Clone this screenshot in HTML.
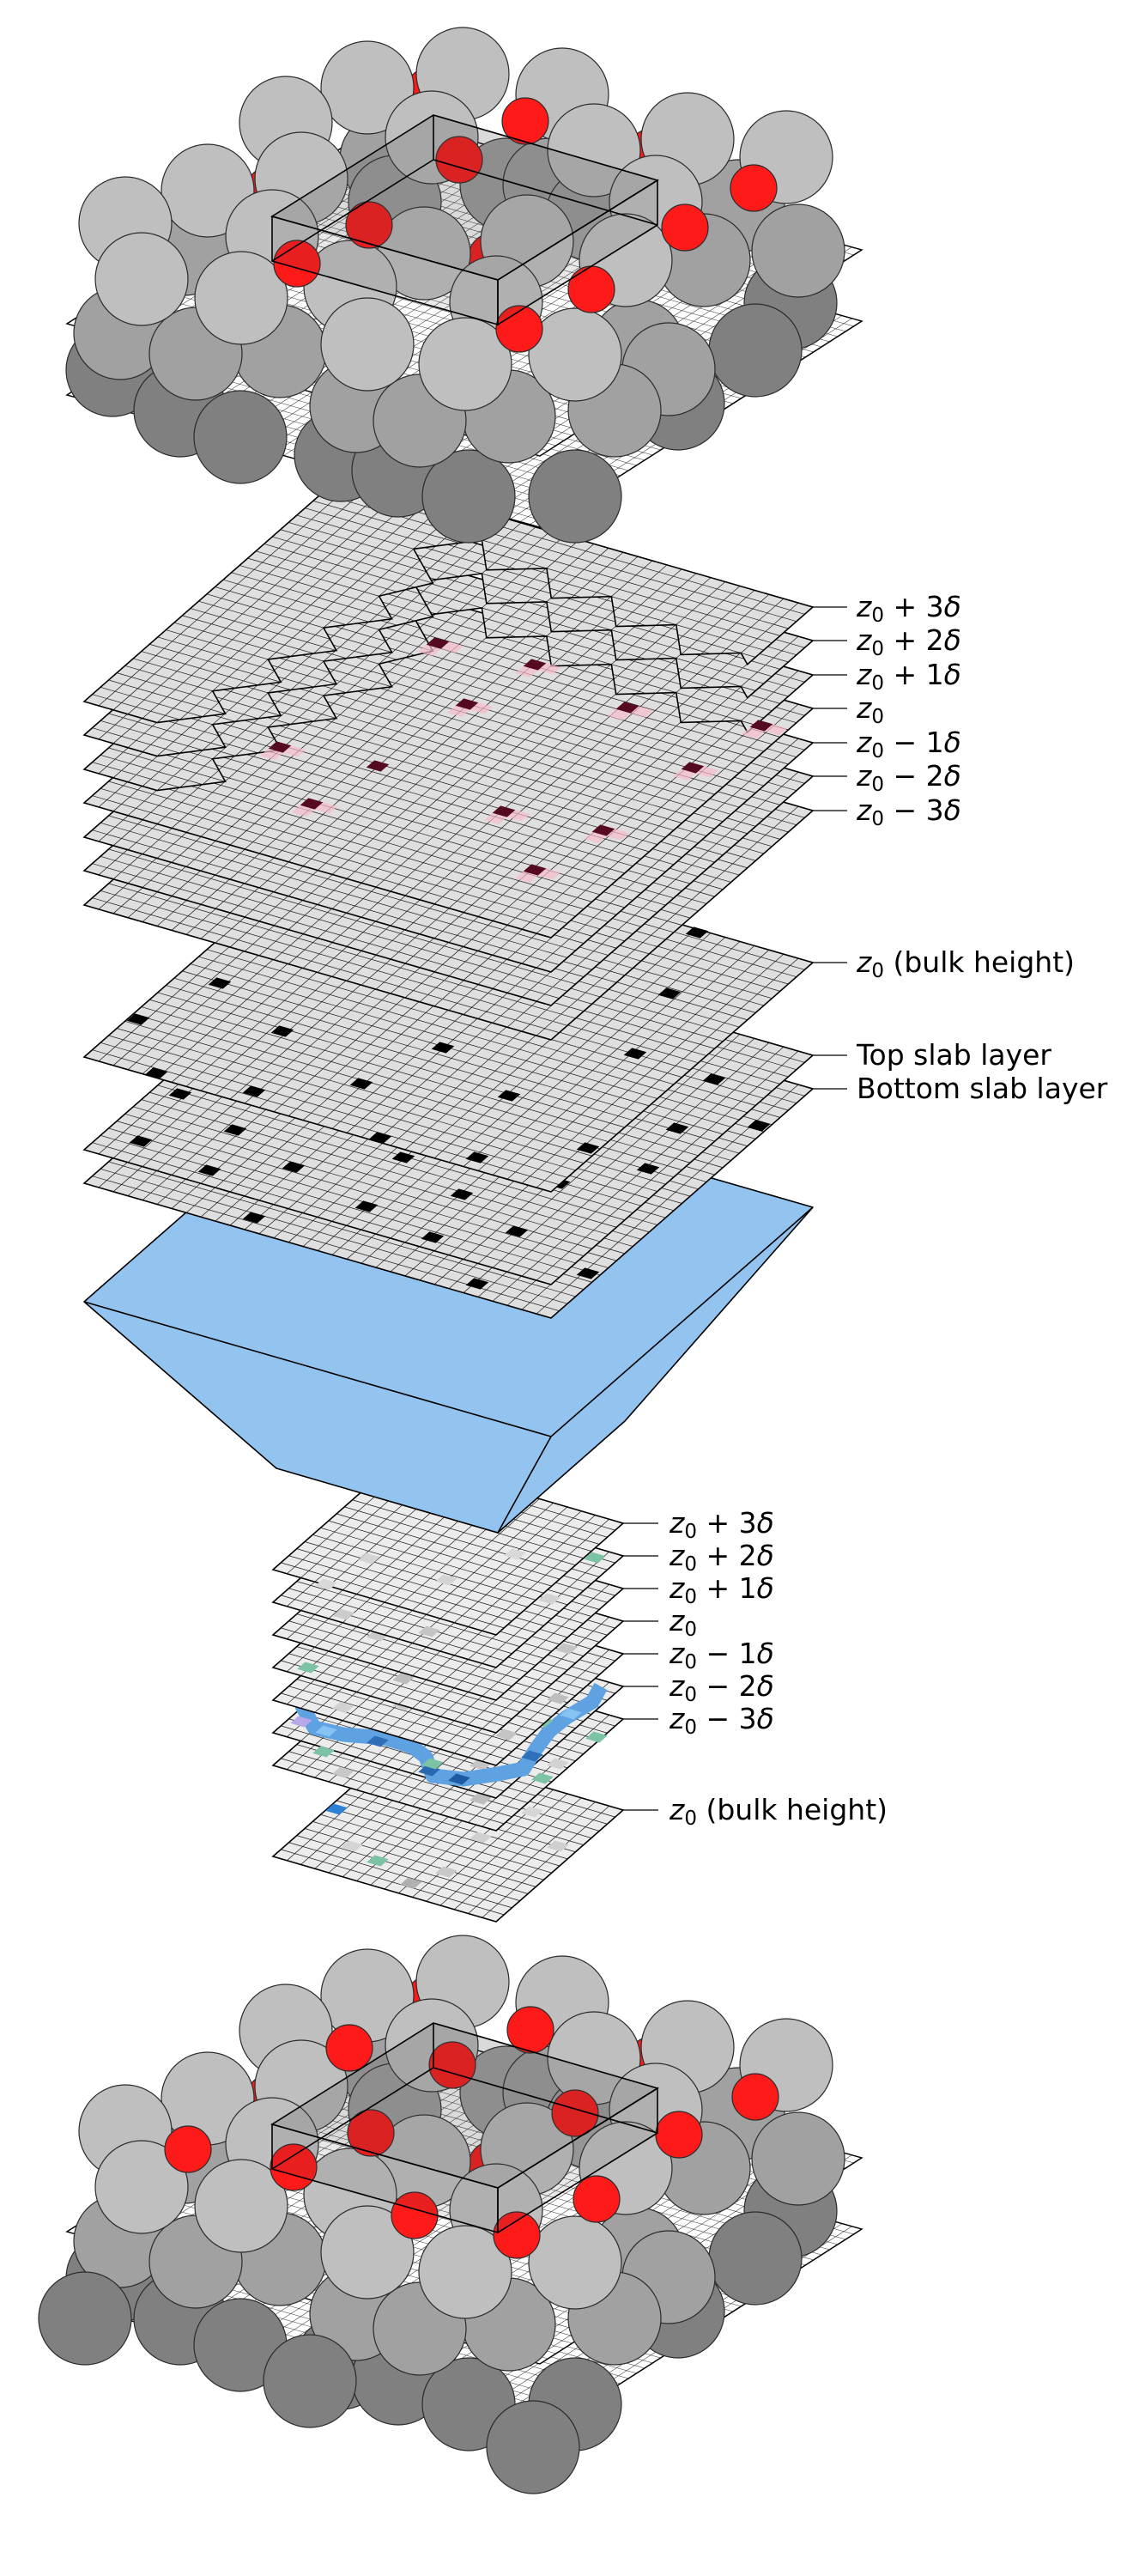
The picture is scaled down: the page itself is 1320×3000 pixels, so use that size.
<!DOCTYPE html>
<html>
<head>
<meta charset="utf-8">
<style>
html,body{margin:0;padding:0;background:#fff;}
svg{display:block;}
text{font-family:"DejaVu Sans","Liberation Sans",sans-serif;font-size:33px;fill:#000;white-space:pre;}
.i{font-style:italic;}
.s{font-size:23px;}
</style>
</head>
<body>
<svg xmlns="http://www.w3.org/2000/svg" xmlns:xlink="http://www.w3.org/1999/xlink" width="1320" height="3000" viewBox="0 0 1320 3000">
<defs>
  <g id="g32">
    <rect width="32" height="32" fill="#dfdfdf"/>
    <path fill="none" stroke="#1a1a1a" stroke-width="0.7" vector-effect="non-scaling-stroke" d="M1 0V32M2 0V32M3 0V32M4 0V32M5 0V32M6 0V32M7 0V32M8 0V32M9 0V32M10 0V32M11 0V32M12 0V32M13 0V32M14 0V32M15 0V32M16 0V32M17 0V32M18 0V32M19 0V32M20 0V32M21 0V32M22 0V32M23 0V32M24 0V32M25 0V32M26 0V32M27 0V32M28 0V32M29 0V32M30 0V32M31 0V32M0 1H32M0 2H32M0 3H32M0 4H32M0 5H32M0 6H32M0 7H32M0 8H32M0 9H32M0 10H32M0 11H32M0 12H32M0 13H32M0 14H32M0 15H32M0 16H32M0 17H32M0 18H32M0 19H32M0 20H32M0 21H32M0 22H32M0 23H32M0 24H32M0 25H32M0 26H32M0 27H32M0 28H32M0 29H32M0 30H32M0 31H32"/>
  </g>
  <g id="g16">
    <rect width="16" height="16" fill="#ececec"/>
    <path fill="none" stroke="#1a1a1a" stroke-width="0.7" vector-effect="non-scaling-stroke" d="M1 0V16M2 0V16M3 0V16M4 0V16M5 0V16M6 0V16M7 0V16M8 0V16M9 0V16M10 0V16M11 0V16M12 0V16M13 0V16M14 0V16M15 0V16M0 1H16M0 2H16M0 3H16M0 4H16M0 5H16M0 6H16M0 7H16M0 8H16M0 9H16M0 10H16M0 11H16M0 12H16M0 13H16M0 14H16M0 15H16"/>
    <rect width="16" height="16" fill="none" stroke="#000" stroke-width="1.6" vector-effect="non-scaling-stroke"/>
  </g>
  <g id="ag">
    <rect width="48" height="40" fill="#fff"/>
    <path fill="none" stroke="#333" stroke-width="0.06" d="M1 0V40M2 0V40M3 0V40M4 0V40M5 0V40M6 0V40M7 0V40M8 0V40M9 0V40M10 0V40M11 0V40M12 0V40M13 0V40M14 0V40M15 0V40M16 0V40M17 0V40M18 0V40M19 0V40M20 0V40M21 0V40M22 0V40M23 0V40M24 0V40M25 0V40M26 0V40M27 0V40M28 0V40M29 0V40M30 0V40M31 0V40M32 0V40M33 0V40M34 0V40M35 0V40M36 0V40M37 0V40M38 0V40M39 0V40M40 0V40M41 0V40M42 0V40M43 0V40M44 0V40M45 0V40M46 0V40M47 0V40M0 1H48M0 2H48M0 3H48M0 4H48M0 5H48M0 6H48M0 7H48M0 8H48M0 9H48M0 10H48M0 11H48M0 12H48M0 13H48M0 14H48M0 15H48M0 16H48M0 17H48M0 18H48M0 19H48M0 20H48M0 21H48M0 22H48M0 23H48M0 24H48M0 25H48M0 26H48M0 27H48M0 28H48M0 29H48M0 30H48M0 31H48M0 32H48M0 33H48M0 34H48M0 35H48M0 36H48M0 37H48M0 38H48M0 39H48"/>
    <rect width="48" height="40" fill="none" stroke="#000" stroke-width="0.17"/>
  </g>
  <clipPath id="cut" clipPathUnits="userSpaceOnUse">
    <polygon points="0,0 5,0 8,3 6,5 9,8 7,10 10,13 8,15 11,18 9,20 11,23 8,26 11,29 13,26 16,28 18,25 21,27 23,24 26,26 28,23 31,25 32,24 32,32 0,32"/>
  </clipPath>
  <polygon id="mc" points="-13.27,1.72 3.73,6.63 13.27,-1.72 -3.73,-6.63"/>
  <polygon id="sc" points="-12.75,1.69 3.5,6.44 12.75,-1.69 -3.5,-6.44"/>
  <g id="rc">
    <use xlink:href="#mc" href="#mc" x="17" y="4.9" fill="#f6bccb" fill-opacity="0.7"/>
    <use xlink:href="#mc" href="#mc" x="-9.53" y="8.34" fill="#f6bccb" fill-opacity="0.7"/>
    <use xlink:href="#mc" href="#mc" x="0" y="0" fill="#550a20"/>
  </g>

  <g id="cl" stroke="#2a2a2a" stroke-width="1.2">
    <g stroke="none">
      <g transform="matrix(11.479 3.208 9.375 -6.0 78 460)"><use xlink:href="#ag" href="#ag"/></g>
      <g transform="matrix(11.479 3.208 9.375 -6.0 78 377)"><use xlink:href="#ag" href="#ag"/></g>
    </g>
    <g fill="#808080">
      <circle cx="921" cy="353" r="54"/>
      <circle cx="880" cy="408" r="54"/>
      <circle cx="131" cy="431" r="54"/>
      <circle cx="790" cy="470" r="54"/>
      <circle cx="210" cy="478" r="54"/>
      <circle cx="280" cy="509" r="54"/>
      <circle cx="397" cy="530" r="54"/>
      <circle cx="464" cy="548" r="54"/>
      <circle cx="546" cy="578" r="54"/>
      <circle cx="670" cy="578" r="54"/>
    </g>
    <g fill="#a1a1a1">
      <circle cx="450" cy="185" r="54"/>
      <circle cx="590" cy="215" r="54"/>
      <circle cx="640" cy="215" r="54"/>
      <circle cx="860" cy="240" r="54"/>
      <circle cx="460" cy="235" r="54"/>
      <circle cx="690" cy="250" r="54"/>
      <circle cx="215" cy="290" r="54"/>
      <circle cx="930" cy="292" r="54"/>
      <circle cx="820" cy="303" r="54"/>
      <circle cx="140" cy="388" r="54"/>
      <circle cx="743" cy="403" r="54"/>
      <circle cx="326" cy="409" r="54"/>
      <circle cx="228" cy="412" r="54"/>
      <circle cx="779" cy="430" r="54"/>
      <circle cx="415" cy="473" r="54"/>
      <circle cx="716" cy="478" r="54"/>
      <circle cx="593" cy="485" r="54"/>
      <circle cx="489" cy="490" r="54"/>
    </g>
    <g fill="#ff1a1a">
      <circle cx="500" cy="106" r="27"/>
      <circle cx="759" cy="177" r="27"/>
      <circle cx="573" cy="299" r="27"/>
      <circle cx="314" cy="221" r="27"/>
    </g>
    <g fill="#bfbfbf">
      <circle cx="539" cy="86" r="54"/>
      <circle cx="428" cy="102" r="54"/>
      <circle cx="655" cy="110" r="54"/>
      <circle cx="333" cy="143" r="54"/>
      <circle cx="503" cy="160" r="54"/>
      <circle cx="801" cy="162" r="54"/>
      <circle cx="692" cy="175" r="54"/>
      <circle cx="916" cy="183" r="54"/>
      <circle cx="351" cy="208" r="54"/>
      <circle cx="242" cy="222" r="54"/>
      <circle cx="764" cy="235" r="54"/>
      <circle cx="146" cy="260" r="54"/>
      <circle cx="317" cy="275" r="54"/>
      <circle cx="614" cy="281" r="54"/>
      <circle cx="494" cy="295" r="54"/>
      <circle cx="729" cy="303" r="54"/>
      <circle cx="165" cy="325" r="54"/>
      <circle cx="408" cy="334" r="54"/>
      <circle cx="281" cy="347" r="54"/>
      <circle cx="578" cy="352" r="54"/>
      <circle cx="428" cy="401" r="54"/>
      <circle cx="670" cy="413" r="54"/>
      <circle cx="542" cy="424" r="54"/>
    </g>
  </g>

  <g id="box" stroke="#000" stroke-width="1.6">
    <polygon points="505,134 766,210 580,326 317,252" fill="#464646" fill-opacity="0.2"/>
    <polygon points="317,252 580,326 580,378 317,304" fill="#464646" fill-opacity="0.12"/>
    <polygon points="580,326 766,210 766,262 580,378" fill="#464646" fill-opacity="0.12"/>
    <path fill="none" d="M505,134V186M505,186L317,304M505,186L766,262"/>
  </g>
</defs>

<rect width="1320" height="3000" fill="#fff"/>

<!-- ============ SMALL OUTPUT LAYERS ============ -->
<g transform="matrix(16.25 4.75 9.25 -8.125 318 2162)"><use xlink:href="#g16" href="#g16"/></g>
<use xlink:href="#sc" href="#sc" x="392" y="2107" fill="#2f7fd6"/>
<use xlink:href="#sc" href="#sc" x="440" y="2167" fill="#7cc3a6"/>
<use xlink:href="#sc" href="#sc" x="479" y="2193" fill="#b0b0b0"/>
<use xlink:href="#sc" href="#sc" x="560" y="2140" fill="#d0d0d0"/>
<use xlink:href="#sc" href="#sc" x="620" y="2110" fill="#d6d6d6"/>
<use xlink:href="#sc" href="#sc" x="520" y="2180" fill="#c8c8c8"/>
<use xlink:href="#sc" href="#sc" x="650" y="2150" fill="#cfcfcf"/>
<use xlink:href="#sc" href="#sc" x="410" y="2150" fill="#d4d4d4"/>
<g transform="matrix(16.25 4.75 9.25 -8.125 318 2056)"><use xlink:href="#g16" href="#g16"/></g>
<use xlink:href="#sc" href="#sc" x="400" y="2064" fill="#c8c8c8"/>
<use xlink:href="#sc" href="#sc" x="560" y="2095" fill="#bdbdbd"/>
<use xlink:href="#sc" href="#sc" x="650" y="2054" fill="#d2d2d2"/>
<g transform="matrix(16.25 4.75 9.25 -8.125 318 2018)"><use xlink:href="#g16" href="#g16"/></g>
<use xlink:href="#sc" href="#sc" x="560" y="2055" fill="#c4c4c4"/>
<polyline points="351,1985 366,2012 400,2020 448,2024 480,2034 496,2046 504,2068 540,2072 580,2066 610,2060 625,2036 640,2016 660,2000 690,1982 700,1964" fill="none" stroke="#5fa2e2" stroke-width="17" stroke-linejoin="round"/>
<use xlink:href="#sc" href="#sc" x="440" y="2028" fill="#2f6fb8"/>
<use xlink:href="#sc" href="#sc" x="500" y="2062" fill="#2a68b2"/>
<use xlink:href="#sc" href="#sc" x="535" y="2072" fill="#1d5aa3"/>
<use xlink:href="#sc" href="#sc" x="620" y="2045" fill="#2f70bb"/>
<use xlink:href="#sc" href="#sc" x="380" y="2016" fill="#86c2f2"/>
<use xlink:href="#sc" href="#sc" x="665" y="1996" fill="#86c2f2"/>
<use xlink:href="#sc" href="#sc" x="351" y="2005" fill="#b8a8ea"/>
<use xlink:href="#sc" href="#sc" x="377" y="2040" fill="#7cc3a6"/>
<use xlink:href="#sc" href="#sc" x="504" y="2054" fill="#7cc3a6"/>
<use xlink:href="#sc" href="#sc" x="632" y="2071" fill="#7cc3a6"/>
<use xlink:href="#sc" href="#sc" x="632" y="2005" fill="#7cc3a6"/>
<use xlink:href="#sc" href="#sc" x="695" y="2023" fill="#7cc3a6"/>
<g transform="matrix(16.25 4.75 9.25 -8.125 318 1980)"><use xlink:href="#g16" href="#g16"/></g>
<use xlink:href="#sc" href="#sc" x="470" y="1985" fill="#c8c8c8"/>
<use xlink:href="#sc" href="#sc" x="590" y="2020" fill="#c4c4c4"/>
<use xlink:href="#sc" href="#sc" x="650" y="1978" fill="#bdbdbd"/>
<use xlink:href="#sc" href="#sc" x="400" y="1988" fill="#d2d2d2"/>
<g transform="matrix(16.25 4.75 9.25 -8.125 318 1942)"><use xlink:href="#g16" href="#g16"/></g>
<use xlink:href="#sc" href="#sc" x="359" y="1942" fill="#7cc3a6"/>
<use xlink:href="#sc" href="#sc" x="540" y="1960" fill="#c8c8c8"/>
<use xlink:href="#sc" href="#sc" x="660" y="1920" fill="#c4c4c4"/>
<use xlink:href="#sc" href="#sc" x="470" y="1955" fill="#bdbdbd"/>
<g transform="matrix(16.25 4.75 9.25 -8.125 318 1904)"><use xlink:href="#g16" href="#g16"/></g>
<use xlink:href="#sc" href="#sc" x="440" y="1905" fill="#c8c8c8"/>
<use xlink:href="#sc" href="#sc" x="505" y="1905" fill="#c0c0c0"/>
<use xlink:href="#sc" href="#sc" x="620" y="1880" fill="#c8c8c8"/>
<use xlink:href="#sc" href="#sc" x="560" y="1920" fill="#bdbdbd"/>
<g transform="matrix(16.25 4.75 9.25 -8.125 318 1866)"><use xlink:href="#g16" href="#g16"/></g>
<use xlink:href="#sc" href="#sc" x="693" y="1814" fill="#7cc3a6"/>
<use xlink:href="#sc" href="#sc" x="400" y="1880" fill="#cccccc"/>
<use xlink:href="#sc" href="#sc" x="500" y="1900" fill="#c4c4c4"/>
<use xlink:href="#sc" href="#sc" x="640" y="1862" fill="#d2d2d2"/>
<g transform="matrix(16.25 4.75 9.25 -8.125 318 1828)"><use xlink:href="#g16" href="#g16"/></g>
<use xlink:href="#sc" href="#sc" x="520" y="1840" fill="#d4d4d4"/>
<use xlink:href="#sc" href="#sc" x="430" y="1815" fill="#d4d4d4"/>
<use xlink:href="#sc" href="#sc" x="600" y="1810" fill="#d8d8d8"/>
<use xlink:href="#sc" href="#sc" x="380" y="1845" fill="#d8d8d8"/>

<!-- ============ FUNNEL ============ -->
<polygon points="98,1516 403,1249 947,1406 728,1655 580,1785 322,1710" fill="#93c4f0" stroke="#000" stroke-width="1.6" stroke-linejoin="round"/>
<path d="M98,1516L642,1673L947,1406M642,1673L580,1785" fill="none" stroke="#000" stroke-width="1.6"/>

<!-- ============ SLAB LAYERS ============ -->
<g transform="matrix(17 4.906 9.531 -8.344 98 1378)"><use xlink:href="#g32" href="#g32"/><rect width="32" height="32" fill="none" stroke="#000" stroke-width="1.6" vector-effect="non-scaling-stroke"/></g>
<g fill="#000">
<use xlink:href="#mc" href="#mc" x="884" y="1311"/>
<use xlink:href="#mc" href="#mc" x="296" y="1418"/>
<use xlink:href="#mc" href="#mc" x="685" y="1483"/>
<use xlink:href="#mc" href="#mc" x="556" y="1495"/>
</g>
<g transform="matrix(17 4.906 9.531 -8.344 98 1339)"><use xlink:href="#g32" href="#g32"/><rect width="32" height="32" fill="none" stroke="#000" stroke-width="1.6" vector-effect="non-scaling-stroke"/></g>
<g fill="#000">
<use xlink:href="#mc" href="#mc" x="832" y="1257"/>
<use xlink:href="#mc" href="#mc" x="210" y="1274"/>
<use xlink:href="#mc" href="#mc" x="274" y="1316"/>
<use xlink:href="#mc" href="#mc" x="789" y="1314"/>
<use xlink:href="#mc" href="#mc" x="164" y="1329"/>
<use xlink:href="#mc" href="#mc" x="470" y="1348"/>
<use xlink:href="#mc" href="#mc" x="342" y="1359"/>
<use xlink:href="#mc" href="#mc" x="755" y="1361"/>
<use xlink:href="#mc" href="#mc" x="244" y="1363"/>
<use xlink:href="#mc" href="#mc" x="538" y="1391"/>
<use xlink:href="#mc" href="#mc" x="427" y="1405"/>
<use xlink:href="#mc" href="#mc" x="602" y="1434"/>
<use xlink:href="#mc" href="#mc" x="504" y="1441"/>
<use xlink:href="#mc" href="#mc" x="651" y="1378"/>
</g>
<g transform="matrix(17 4.906 9.531 -8.344 98 1231)"><use xlink:href="#g32" href="#g32"/><rect width="32" height="32" fill="none" stroke="#000" stroke-width="1.6" vector-effect="non-scaling-stroke"/></g>
<g fill="#000">
<use xlink:href="#mc" href="#mc" x="812" y="1086"/>
<use xlink:href="#mc" href="#mc" x="780" y="1157"/>
<use xlink:href="#mc" href="#mc" x="256" y="1145"/>
<use xlink:href="#mc" href="#mc" x="161" y="1187"/>
<use xlink:href="#mc" href="#mc" x="329" y="1201"/>
<use xlink:href="#mc" href="#mc" x="516" y="1220"/>
<use xlink:href="#mc" href="#mc" x="740" y="1227"/>
<use xlink:href="#mc" href="#mc" x="182" y="1250"/>
<use xlink:href="#mc" href="#mc" x="421" y="1262"/>
<use xlink:href="#mc" href="#mc" x="593" y="1276"/>
<use xlink:href="#mc" href="#mc" x="296" y="1271"/>
<use xlink:href="#mc" href="#mc" x="443" y="1325"/>
<use xlink:href="#mc" href="#mc" x="556" y="1348"/>
<use xlink:href="#mc" href="#mc" x="685" y="1337"/>
</g>

<!-- ============ MAIN STACK ============ -->
<g transform="matrix(17 4.906 9.531 -8.344 98 1054)"><use xlink:href="#g32" href="#g32"/><rect width="32" height="32" fill="none" stroke="#000" stroke-width="1.6" vector-effect="non-scaling-stroke"/></g>
<g transform="matrix(17 4.906 9.531 -8.344 98 1014)"><use xlink:href="#g32" href="#g32"/><rect width="32" height="32" fill="none" stroke="#000" stroke-width="1.6" vector-effect="non-scaling-stroke"/></g>
<g transform="matrix(17 4.906 9.531 -8.344 98 975)"><use xlink:href="#g32" href="#g32"/><rect width="32" height="32" fill="none" stroke="#000" stroke-width="1.6" vector-effect="non-scaling-stroke"/></g>
<g transform="matrix(17 4.906 9.531 -8.344 98 935)"><use xlink:href="#g32" href="#g32"/><rect width="32" height="32" fill="none" stroke="#000" stroke-width="1.6" vector-effect="non-scaling-stroke"/></g>
<g transform="matrix(17 4.906 9.531 -8.344 98 896)"><g clip-path="url(#cut)"><use xlink:href="#g32" href="#g32"/></g><polygon points="0,0 5,0 8,3 6,5 9,8 7,10 10,13 8,15 11,18 9,20 11,23 8,26 11,29 13,26 16,28 18,25 21,27 23,24 26,26 28,23 31,25 32,24 32,32 0,32" fill="none" stroke="#000" stroke-width="1.6" vector-effect="non-scaling-stroke"/></g>
<g transform="matrix(17 4.906 9.531 -8.344 98 856)"><g clip-path="url(#cut)"><use xlink:href="#g32" href="#g32"/></g><polygon points="0,0 5,0 8,3 6,5 9,8 7,10 10,13 8,15 11,18 9,20 11,23 8,26 11,29 13,26 16,28 18,25 21,27 23,24 26,26 28,23 31,25 32,24 32,32 0,32" fill="none" stroke="#000" stroke-width="1.6" vector-effect="non-scaling-stroke"/></g>
<g transform="matrix(17 4.906 9.531 -8.344 98 817)"><g clip-path="url(#cut)"><use xlink:href="#g32" href="#g32"/></g><polygon points="0,0 5,0 8,3 6,5 9,8 7,10 10,13 8,15 11,18 9,20 11,23 8,26 11,29 13,26 16,28 18,25 21,27 23,24 26,26 28,23 31,25 32,24 32,32 0,32" fill="none" stroke="#000" stroke-width="1.6" vector-effect="non-scaling-stroke"/></g>
<use xlink:href="#rc" href="#rc" x="510" y="749"/>
<use xlink:href="#rc" href="#rc" x="623" y="774"/>
<use xlink:href="#rc" href="#rc" x="544" y="820"/>
<use xlink:href="#rc" href="#rc" x="731" y="824"/>
<use xlink:href="#rc" href="#rc" x="887" y="845"/>
<use xlink:href="#rc" href="#rc" x="326" y="870"/>
<use xlink:href="#mc" href="#mc" x="440" y="892" fill="#550a20"/>
<use xlink:href="#rc" href="#rc" x="807" y="894"/>
<use xlink:href="#rc" href="#rc" x="363" y="936"/>
<use xlink:href="#rc" href="#rc" x="587" y="945"/>
<use xlink:href="#rc" href="#rc" x="703" y="967"/>
<use xlink:href="#rc" href="#rc" x="623" y="1013"/>

<!-- ============ LABELS ============ -->
<g stroke="#000" stroke-width="1.3">
  <path d="M947,707H987M947,746H987M947,786H987M947,825H987M947,865H987M947,904H987M947,944H987"/>
  <path d="M947,1121H987M947,1229H987M947,1268H987"/>
  <path d="M726,1774H767M726,1812H767M726,1850H767M726,1888H767M726,1926H767M726,1964H767M726,2002H767M726,2108H767"/>
</g>
<text x="998" y="718"><tspan class="i">z</tspan><tspan class="s" dy="6">0</tspan><tspan dy="-6"> + 3</tspan><tspan class="i">δ</tspan></text>
<text x="998" y="757"><tspan class="i">z</tspan><tspan class="s" dy="6">0</tspan><tspan dy="-6"> + 2</tspan><tspan class="i">δ</tspan></text>
<text x="998" y="797"><tspan class="i">z</tspan><tspan class="s" dy="6">0</tspan><tspan dy="-6"> + 1</tspan><tspan class="i">δ</tspan></text>
<text x="998" y="836"><tspan class="i">z</tspan><tspan class="s" dy="6">0</tspan></text>
<text x="998" y="876"><tspan class="i">z</tspan><tspan class="s" dy="6">0</tspan><tspan dy="-6"> − 1</tspan><tspan class="i">δ</tspan></text>
<text x="998" y="915"><tspan class="i">z</tspan><tspan class="s" dy="6">0</tspan><tspan dy="-6"> − 2</tspan><tspan class="i">δ</tspan></text>
<text x="998" y="955"><tspan class="i">z</tspan><tspan class="s" dy="6">0</tspan><tspan dy="-6"> − 3</tspan><tspan class="i">δ</tspan></text>

<text x="998" y="1132"><tspan class="i">z</tspan><tspan class="s" dy="6">0</tspan><tspan dy="-6"> (bulk height)</tspan></text>
<text x="998" y="1240">Top slab layer</text>
<text x="998" y="1279">Bottom slab layer</text>

<text x="780" y="1785"><tspan class="i">z</tspan><tspan class="s" dy="6">0</tspan><tspan dy="-6"> + 3</tspan><tspan class="i">δ</tspan></text>
<text x="780" y="1823"><tspan class="i">z</tspan><tspan class="s" dy="6">0</tspan><tspan dy="-6"> + 2</tspan><tspan class="i">δ</tspan></text>
<text x="780" y="1861"><tspan class="i">z</tspan><tspan class="s" dy="6">0</tspan><tspan dy="-6"> + 1</tspan><tspan class="i">δ</tspan></text>
<text x="780" y="1899"><tspan class="i">z</tspan><tspan class="s" dy="6">0</tspan></text>
<text x="780" y="1937"><tspan class="i">z</tspan><tspan class="s" dy="6">0</tspan><tspan dy="-6"> − 1</tspan><tspan class="i">δ</tspan></text>
<text x="780" y="1975"><tspan class="i">z</tspan><tspan class="s" dy="6">0</tspan><tspan dy="-6"> − 2</tspan><tspan class="i">δ</tspan></text>
<text x="780" y="2013"><tspan class="i">z</tspan><tspan class="s" dy="6">0</tspan><tspan dy="-6"> − 3</tspan><tspan class="i">δ</tspan></text>
<text x="780" y="2119"><tspan class="i">z</tspan><tspan class="s" dy="6">0</tspan><tspan dy="-6"> (bulk height)</tspan></text>

<!-- ============ TOP ATOM CLUSTER ============ -->
<use xlink:href="#cl" href="#cl"/>
<g fill="#ff1a1a" stroke="#2a2a2a" stroke-width="1.2">
  <circle cx="612" cy="141" r="27"/>
  <circle cx="535" cy="186" r="27"/>
  <circle cx="878" cy="219" r="27"/>
  <circle cx="430" cy="262" r="27"/>
  <circle cx="798" cy="265" r="27"/>
  <circle cx="346" cy="307" r="27"/>
  <circle cx="689" cy="337" r="27"/>
  <circle cx="605" cy="383" r="27"/>
</g>
<use xlink:href="#box" href="#box"/>

<!-- ============ BOTTOM ATOM CLUSTER ============ -->
<g transform="translate(0,2222)">
  <use xlink:href="#cl" href="#cl"/>
</g>
<g fill="#808080" stroke="#2a2a2a" stroke-width="1.2">
  <circle cx="99" cy="2700" r="54"/>
  <circle cx="361" cy="2773" r="54"/>
  <circle cx="621" cy="2850" r="54"/>
</g>
<g fill="#ff1a1a" stroke="#2a2a2a" stroke-width="1.2">
  <circle cx="618" cy="2364" r="27"/>
  <circle cx="407" cy="2385" r="27"/>
  <circle cx="527" cy="2405" r="27"/>
  <circle cx="880" cy="2442" r="27"/>
  <circle cx="670" cy="2461" r="27"/>
  <circle cx="432" cy="2484" r="27"/>
  <circle cx="791" cy="2486" r="27"/>
  <circle cx="219" cy="2503" r="27"/>
  <circle cx="342" cy="2524" r="27"/>
  <circle cx="695" cy="2561" r="27"/>
  <circle cx="483" cy="2580" r="27"/>
  <circle cx="602" cy="2603" r="27"/>
</g>
<g transform="translate(0,2222)">
  <use xlink:href="#box" href="#box"/>
</g>
</svg>
</body>
</html>
